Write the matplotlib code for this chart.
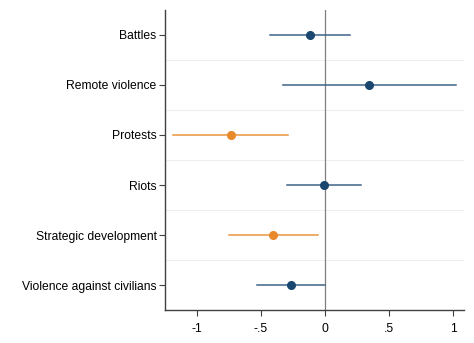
import matplotlib
matplotlib.use('Agg')
import matplotlib.pyplot as plt

plt.rcParams['font.family'] = ['Liberation Sans', 'DejaVu Sans']

categories = ['Battles', 'Remote violence', 'Protests', 'Riots',
              'Strategic development', 'Violence against civilians']
estimates = [-0.117, 0.344, -0.734, -0.008, -0.406, -0.266]
ci_low = [-0.43, -0.328, -1.187, -0.297, -0.75, -0.531]
ci_high = [0.195, 1.023, -0.289, 0.281, -0.055, 0.0]
group = ['navy', 'navy', 'orange', 'navy', 'orange', 'navy']

dot_colors = {'navy': '#1a476f', 'orange': '#e8892b'}
line_colors = {'navy': '#3f6389', 'orange': '#eb9540'}

fig = plt.figure(figsize=(4.74, 3.43), dpi=100)
ax = fig.add_axes([0.348, 0.096, 0.631, 0.875])

ypos = list(range(1, len(categories) + 1))

# light separators between rows
for y in ypos[:-1]:
    ax.axhline(y + 0.5, color='#eeeeee', lw=0.8, zorder=0)

ax.axvline(0, color='#7f7f7f', lw=0.9, zorder=1)

for y, est, lo, hi, g in zip(ypos, estimates, ci_low, ci_high, group):
    ax.plot([lo, hi], [y, y], color=line_colors[g], lw=1.1, zorder=2)
    ax.plot(est, y, 'o', color=dot_colors[g], ms=5.5, zorder=3)

ax.set_ylim(6.5, 0.5)
ax.set_xlim(-1.25, 1.086)
ax.set_yticks(ypos)
ax.set_yticklabels(categories)
ax.set_xticks([-1, -0.5, 0, 0.5, 1])
ax.set_xticklabels(['-1', '-.5', '0', '.5', '1'])

for s in ['top', 'right']:
    ax.spines[s].set_visible(False)
for s in ['left', 'bottom']:
    ax.spines[s].set_color('#404040')
    ax.spines[s].set_linewidth(1.0)

ax.tick_params(axis='both', labelsize=8.7, colors='#404040', labelcolor='black',
               length=4, width=0.8)
ax.tick_params(axis='y', pad=2)
ax.tick_params(axis='x', pad=5)

fig.savefig('out.png', dpi=100)
